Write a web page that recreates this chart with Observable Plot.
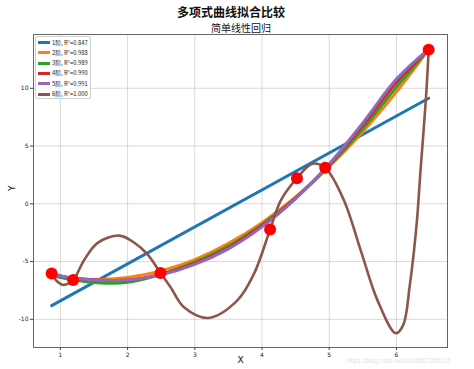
<!DOCTYPE html>
<html>
<head>
<meta charset="utf-8">
<script src="https://cdn.jsdelivr.net/npm/d3@7"></script>
<script src="https://cdn.jsdelivr.net/npm/@observablehq/plot@0.6"></script>
<style>
  html, body { margin: 0; padding: 0; background: #fff; }
  #wrap { position: relative; width: 474px; height: 369px; overflow: hidden; font-family: "Noto Sans CJK SC", "DejaVu Sans", sans-serif; }
  #wrap svg { position: absolute; left: 0; top: 0; }
  .title { position: absolute; left: 0; width: 462px; text-align: center; top: 3px; font-size: 12px; font-weight: bold; color: #111; }
  .subtitle { position: absolute; left: 0; width: 482px; text-align: center; top: 20px; font-size: 10px; color: #111; }
  .legend { position: absolute; left: 35px; top: 36px; width: 56px; height: 63px; border: 1px solid #d0d0d0; border-radius: 2px; background: rgba(255,255,255,0.85); box-sizing: border-box; }
  .row { position: absolute; left: 2px; height: 10px; font-size: 5.8px; line-height: 10px; color: #222; white-space: nowrap; }
  .row span.sw { position: absolute; left: 0; top: 3.5px; width: 12px; height: 3px; }
  .row span.tx { position: absolute; left: 14px; top: 0; }
  .wm { position: absolute; left: 347px; top: 357px; font-size: 6.3px; line-height: 8px; color: #e2e2e2; font-family: "Liberation Sans", sans-serif; white-space: nowrap; }
</style>
</head>
<body>
<div id="wrap"></div>
<script>
// Data points (red markers)
const ptX = [0.87, 1.19, 2.49, 4.12, 4.52, 4.94, 6.48];
const ptY = [-6.04, -6.59, -5.98, -2.23, 2.22, 3.12, 13.35];

// Degree 1 fit (straight line end points)
const deg1X = [0.87, 6.48];
const deg1Y = [-8.81, 9.14];

// Degrees 2-5 sampled along x
const polyX = [0.87, 1.2, 1.6, 2.0, 2.5, 3.0, 3.5, 4.0, 4.5, 5.0, 5.5, 6.0, 6.48];
const deg2Y = [-6.17, -6.45, -6.55, -6.38, -5.81, -4.83, -3.43, -1.63, 0.59, 3.21, 6.24, 9.69, 13.38];
const deg3Y = [-6.2, -6.6, -6.85, -6.8, -6.1, -5.05, -3.65, -1.8, 0.5, 3.3, 6.5, 10.1, 13.4];
const deg4Y = [-6.1, -6.45, -6.6, -6.6, -6.1, -5.15, -3.8, -1.9, 0.5, 3.4, 6.8, 10.5, 13.4];
const deg5Y = [-6.05, -6.45, -6.6, -6.6, -6.15, -5.25, -3.9, -2.0, 0.45, 3.45, 7.0, 10.8, 13.4];

// Degree 6 (interpolating) curve samples
const deg6X = [0.87, 0.95, 1.05, 1.19, 1.35, 1.55, 1.88, 2.09, 2.29, 2.49, 2.64, 2.84, 3.2, 3.63, 3.88, 4.12, 4.28, 4.52, 4.75, 4.94, 5.22, 5.47, 5.72, 5.99, 6.1, 6.2, 6.3, 6.36, 6.44, 6.48];
const deg6Y = [-6.04, -6.7, -7.02, -6.59, -4.91, -3.4, -2.75, -3.33, -4.33, -5.98, -7.22, -8.96, -9.88, -8.38, -6.07, -2.23, 0.29, 2.22, 3.47, 3.12, 0.29, -4.05, -8.38, -11.21, -10.5, -7.0, -1.8, 3.0, 9.2, 13.35];

const seriesLabels = ["1阶, R²=0.847", "2阶, R²=0.988", "3阶, R²=0.989", "4阶, R²=0.990", "5阶, R²=0.991", "6阶, R²=1.000"];
const seriesColors = ["#1f77b4", "#ff7f0e", "#2ca02c", "#d62728", "#9467bd", "#8c564b"];
const xTicks = [1, 2, 3, 4, 5, 6];
const yTicks = [-10, -5, 0, 5, 10];

const toRows = (xs, ys) => xs.map((x, i) => ({x, y: ys[i]}));
const series = [
  toRows(deg1X, deg1Y),
  toRows(polyX, deg2Y),
  toRows(polyX, deg3Y),
  toRows(polyX, deg4Y),
  toRows(polyX, deg5Y),
  toRows(deg6X, deg6Y)
];

const chart = Plot.plot({
  width: 474,
  height: 369,
  marginLeft: 33,
  marginRight: 27,
  marginTop: 34,
  marginBottom: 22,
  style: {fontFamily: "DejaVu Sans, sans-serif", fontSize: "6px", background: "transparent", color: "#222"},
  x: {domain: [0.60, 6.76], label: null},
  y: {domain: [-12.44, 14.66], label: null},
  marks: [
    Plot.gridX(xTicks, {stroke: "#b0b0b0", strokeOpacity: 0.6, strokeWidth: 0.8}),
    Plot.gridY(yTicks, {stroke: "#b0b0b0", strokeOpacity: 0.6, strokeWidth: 0.8}),
    ...series.map((rows, i) => Plot.line(rows, {x: "x", y: "y", stroke: seriesColors[i], strokeWidth: i === 5 ? 2.6 : 3, curve: "catmull-rom"})),
    Plot.dot(toRows(ptX, ptY), {x: "x", y: "y", r: 6, fill: "#ff0000", stroke: "none"}),
    Plot.frame({stroke: "#666", strokeWidth: 1}),
    Plot.axisX(xTicks, {tickSize: 3, tickPadding: 2, tickFormat: d => String(d), fontSize: 6, label: null, stroke: "#444"}),
    Plot.axisY(yTicks, {tickSize: 3, tickPadding: 2, tickFormat: d => String(d), fontSize: 6, label: null, stroke: "#444"}),
    Plot.text(["X"], {frameAnchor: "bottom", dy: 15, fontSize: 9, fill: "#111"}),
    Plot.text(["Y"], {frameAnchor: "left", dx: -21, rotate: -90, fontSize: 9, fill: "#111"})
  ]
});

const wrap = document.getElementById("wrap");
wrap.appendChild(chart);

const t = document.createElement("div"); t.className = "title"; t.textContent = "多项式曲线拟合比较"; wrap.appendChild(t);
const s = document.createElement("div"); s.className = "subtitle"; s.textContent = "简单线性回归"; wrap.appendChild(s);

const lg = document.createElement("div"); lg.className = "legend";
seriesLabels.forEach((lab, i) => {
  const r = document.createElement("div"); r.className = "row"; r.style.top = (0.5 + i * 10.3) + "px";
  const sw = document.createElement("span"); sw.className = "sw"; sw.style.background = seriesColors[i];
  const tx = document.createElement("span"); tx.className = "tx"; tx.textContent = lab;
  r.appendChild(sw); r.appendChild(tx); lg.appendChild(r);
});
wrap.appendChild(lg);

const wm = document.createElement("div"); wm.className = "wm"; wm.textContent = "https://blog.csdn.net/u010857053315"; wrap.appendChild(wm);
</script>
</body>
</html>
